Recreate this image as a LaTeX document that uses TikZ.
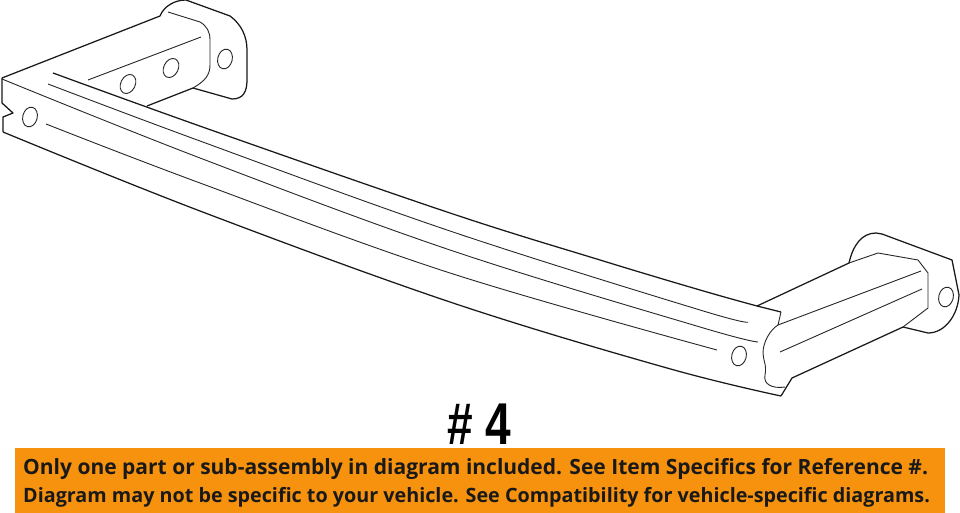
\documentclass[tikz,border=0pt]{standalone}
\usepackage{fontspec}
\setmainfont{Open Sans}
\newfontfamily\numfont{Liberation Sans}
\usetikzlibrary{shapes.geometric}
\definecolor{bannerorange}{HTML}{F7920E}
\tikzset{
    outer/.style={line width=1.25pt, line join=round, black!90},
    inner/.style={line width=0.9pt, line join=round, black!85},
    hole/.style={draw, ellipse, inner sep=0pt, line width=0.9pt, black!85, minimum width=14.5pt, minimum height=20pt, rotate=-14},
    notice/.style={anchor=base west, inner sep=0pt, black!90}
}

\begin{document}
\begin{tikzpicture}[x=1pt,y=-1pt]
        \useasboundingbox (0,0) rectangle (960,513);
        % beam
        \draw [outer] plot [smooth, tension=0.6] coordinates {(53,73) (211,130) (450,213) (600,260) (700,290) (757,306)} -- (781,312);
        \draw [inner] plot [smooth, tension=0.6] coordinates {(48,84) (200,141) (450,231) (700,310) (748,322)};
        \draw [inner] plot [smooth, tension=0.6] coordinates {(2,79) (200,158) (450,250) (700,327) (758,342)};
        \draw [inner] plot [smooth, tension=0.6] coordinates {(46,124) (200,183) (450,273) (717,350)};
        \draw [outer] plot [smooth, tension=0.6] coordinates {(3,132) (200,211) (450,302) (667,368) (781,396)};
        % left end of the beam
        \draw [outer] (3,132) -- (3,117) -- (13,113) -- (2,103) -- (2,78);
        % left bracket
        \draw [outer] (2,78) -- (160,16) .. controls (164,6) and (175,0) .. (186,0) -- (230,16) .. controls (241,24) and (247,36) .. (247,50) -- (247,80) .. controls (247,92) and (243,99) .. (232,99) -- (193,88);
        \draw [inner] (168,12) -- (200,22) .. controls (207,26) and (210,32) .. (210,40) -- (210,65) .. controls (210,75) and (205,81) .. (193,88);
        \draw [outer] (193,88) -- (147,106);
        \draw [inner] (88,80) -- (201,37);
        % right bracket
        \draw [outer] (757,306) -- (849,263) .. controls (853,245) and (862,233) .. (876,233) -- (882,234) -- (952,260) -- (959,295) .. controls (958,315) and (945,333) .. (928,333) -- (903,327);
        \draw [inner] (849,263) -- (878,253) -- (918,260) -- (928,273) -- (928,308) -- (903,327);
        \draw [outer] (903,327) -- (792,378) -- (781,396);
        \draw [inner] (781,312) -- (778,325) .. controls (770,330) and (763,342) .. (763,353) .. controls (763,360) and (767,365) .. (765,375) .. controls (763,384) and (772,389) .. (785,387);
        \draw [inner] (778,325) -- (921,271);
        \draw [inner] (780,352) -- (922,289);
        % holes
        \node [hole] (holeA) at (30,117) {};
        \node [hole, rotate=-12] (holeB) at (128,84) {};
        \node [hole, rotate=-12] (holeC) at (171,68) {};
        \node [hole] (holeD) at (225,59) {};
        \node [hole] (holeE) at (739,356) {};
        \node [hole] (holeF) at (946,297) {};
        % label and banner
        \node [anchor=base, inner sep=0pt, xscale=0.78, transform shape, font=\numfont\fontsize{59}{59}\selectfont\bfseries] (partno) at (479.5,444) {\# 4};
        \node [fill=bannerorange, anchor=north west, inner sep=0pt, minimum width=930pt, minimum height=65pt] (banner) at (15,448) {};
        \node [notice, font=\bfseries\fontsize{21}{22}\selectfont] (lineA) at (23,474) {Only one part or sub-assembly in diagram included. See Item Specifics for Reference \#.};
        \node [notice, font=\bfseries\fontsize{19.75}{20}\selectfont] (lineB) at (23,502) {Diagram may not be specific to your vehicle. See Compatibility for vehicle-specific diagrams.};
    \end{tikzpicture}
\end{document}
